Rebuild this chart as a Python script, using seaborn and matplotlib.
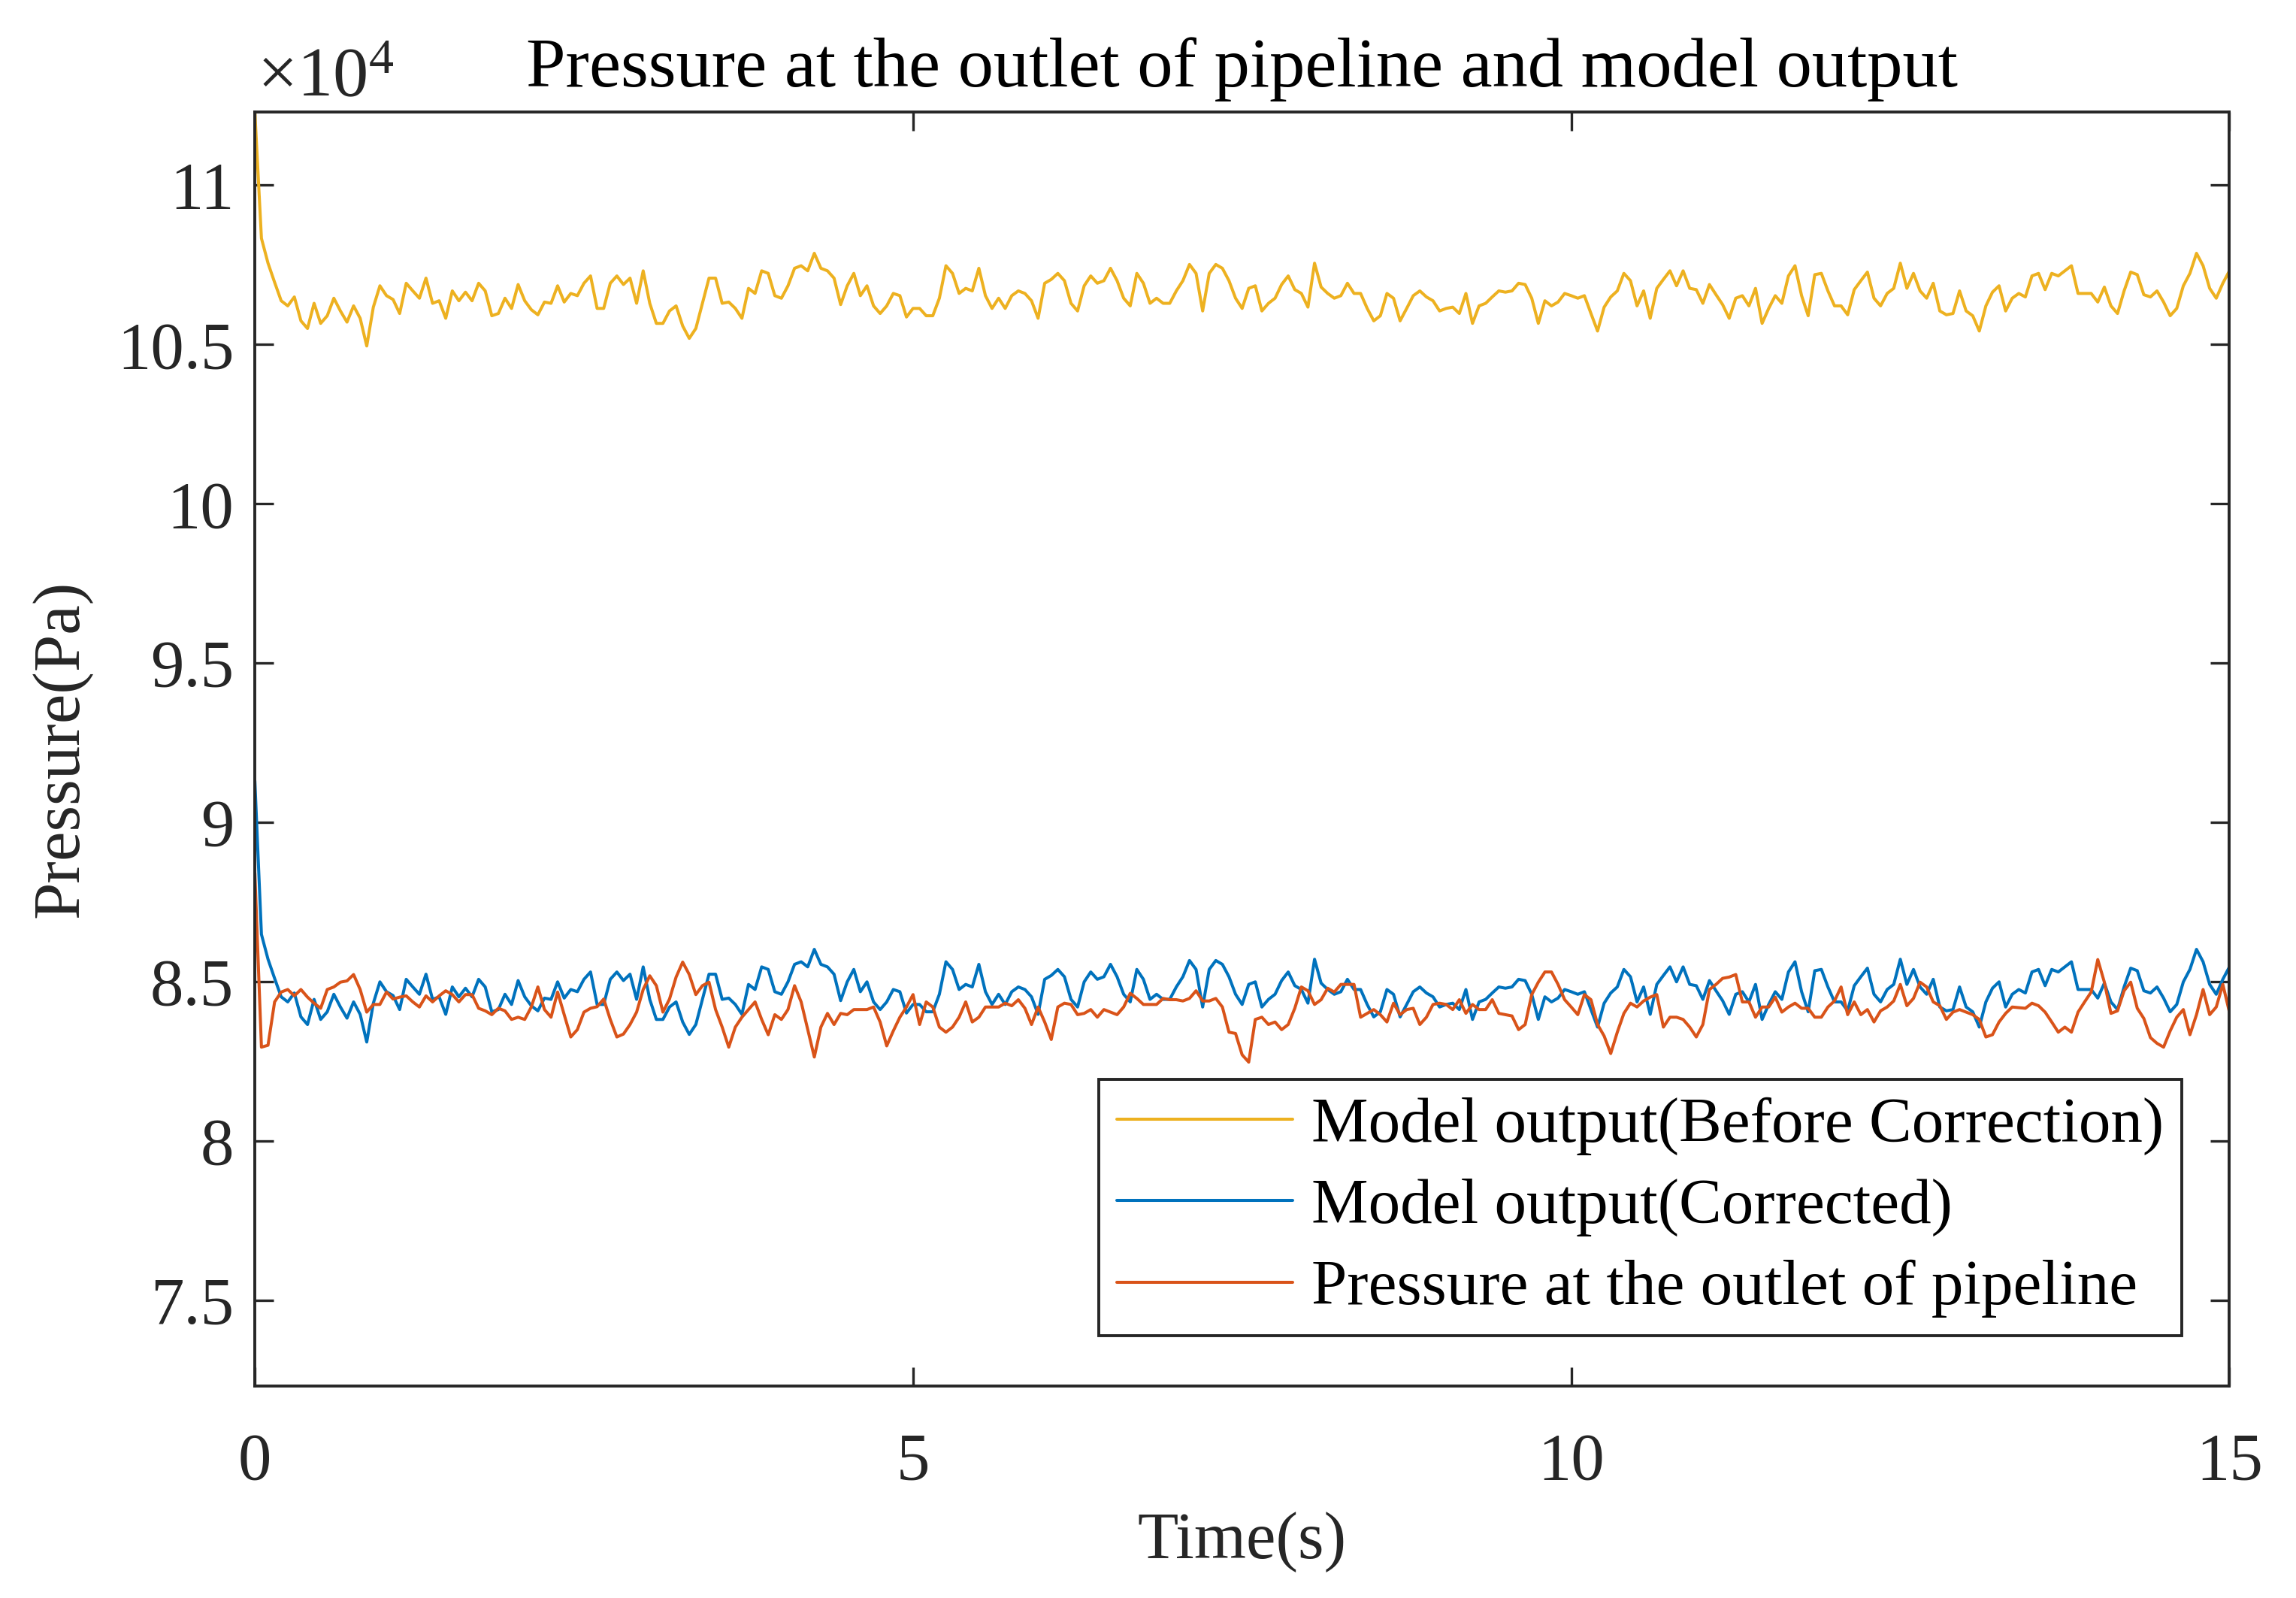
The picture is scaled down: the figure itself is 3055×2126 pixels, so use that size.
import numpy as np
import pandas as pd
import matplotlib
matplotlib.use("Agg")
import matplotlib.pyplot as plt
import seaborn as sns
from matplotlib.ticker import FuncFormatter, FixedLocator

# ---------------- data (pressure in units of 1e4 Pa) ----------------
time_s = np.round(np.arange(301) * 0.05, 2)

model_before = [
    11.23, 10.833, 10.755, 10.695, 10.637, 10.621, 10.649, 10.574, 10.550, 10.629,
    10.566, 10.590, 10.645, 10.605, 10.570, 10.621, 10.582, 10.495, 10.617, 10.684,
    10.653, 10.641, 10.597, 10.692, 10.668, 10.645, 10.708, 10.629, 10.637, 10.582,
    10.668, 10.637, 10.664, 10.637, 10.692, 10.668, 10.590, 10.597, 10.645, 10.613,
    10.688, 10.637, 10.609, 10.593, 10.633, 10.629, 10.684, 10.633, 10.660, 10.653,
    10.692, 10.715, 10.613, 10.613, 10.692, 10.715, 10.688, 10.708, 10.629, 10.731,
    10.629, 10.566, 10.566, 10.605, 10.621, 10.558, 10.519, 10.550, 10.629, 10.708,
    10.708, 10.629, 10.633, 10.613, 10.582, 10.676,
    10.660, 10.731, 10.723, 10.653, 10.645, 10.684, 10.739, 10.747, 10.731, 10.786,
    10.739, 10.731, 10.708, 10.625, 10.684, 10.723, 10.653, 10.684, 10.621, 10.597,
    10.621, 10.660, 10.653, 10.586, 10.613, 10.613, 10.590, 10.590, 10.645, 10.747,
    10.723, 10.660, 10.676, 10.668, 10.739, 10.653, 10.613, 10.645, 10.613, 10.653,
    10.668, 10.660, 10.637, 10.582, 10.692, 10.704, 10.723, 10.700, 10.629, 10.605,
    10.684, 10.715, 10.692, 10.700, 10.739, 10.700, 10.645, 10.621, 10.723, 10.692,
    10.629, 10.645, 10.629, 10.629, 10.668, 10.700, 10.751, 10.723, 10.605, 10.723,
    10.751, 10.739, 10.700, 10.645, 10.613,
    10.676, 10.684, 10.605, 10.629, 10.645, 10.688, 10.715, 10.672, 10.660, 10.617,
    10.755, 10.680, 10.660, 10.645, 10.653, 10.692, 10.660, 10.660, 10.613, 10.574,
    10.590, 10.660, 10.645, 10.574, 10.613, 10.653, 10.668, 10.649, 10.637, 10.605,
    10.613, 10.617, 10.597, 10.660, 10.566, 10.621, 10.629, 10.649, 10.668, 10.664,
    10.668, 10.692, 10.688, 10.645, 10.566, 10.637, 10.621, 10.633, 10.660, 10.653,
    10.645, 10.653, 10.597, 10.542, 10.617, 10.649, 10.668, 10.723, 10.700, 10.621,
    10.668, 10.582, 10.676, 10.704, 10.731, 10.684, 10.731, 10.676, 10.672, 10.629,
    10.688, 10.656, 10.625, 10.582, 10.645,
    10.653, 10.621, 10.676, 10.566, 10.613, 10.653, 10.629, 10.715, 10.747, 10.653,
    10.590, 10.719, 10.723, 10.668, 10.621, 10.621, 10.593, 10.672, 10.700, 10.727,
    10.645, 10.621, 10.660, 10.676, 10.755, 10.676, 10.723, 10.668, 10.645, 10.692,
    10.605, 10.593, 10.597, 10.668, 10.605, 10.590, 10.542, 10.621, 10.664, 10.684,
    10.605, 10.645, 10.660, 10.649, 10.715, 10.723, 10.672, 10.723, 10.715, 10.731,
    10.747, 10.660, 10.660, 10.660, 10.633, 10.680, 10.621, 10.597, 10.668, 10.727,
    10.719, 10.656, 10.649, 10.668, 10.633, 10.590, 10.613, 10.684, 10.723, 10.786,
    10.747, 10.676, 10.645, 10.692, 10.731,
]

model_corrected = [
    9.13, 8.648, 8.570, 8.510, 8.452, 8.436, 8.464, 8.389, 8.365, 8.444,
    8.381, 8.405, 8.460, 8.420, 8.385, 8.436, 8.397, 8.310, 8.432, 8.499,
    8.468, 8.456, 8.412, 8.507, 8.483, 8.460, 8.523, 8.444, 8.452, 8.397,
    8.483, 8.452, 8.479, 8.452, 8.507, 8.483, 8.405, 8.412, 8.460, 8.428,
    8.503, 8.452, 8.424, 8.408, 8.448, 8.444, 8.499, 8.448, 8.475, 8.468,
    8.507, 8.530, 8.428, 8.428, 8.507, 8.530, 8.503, 8.523, 8.444, 8.546,
    8.444, 8.381, 8.381, 8.420, 8.436, 8.373, 8.334, 8.365, 8.444, 8.523,
    8.523, 8.444, 8.448, 8.428, 8.397, 8.491,
    8.475, 8.546, 8.538, 8.468, 8.460, 8.499, 8.554, 8.562, 8.546, 8.601,
    8.554, 8.546, 8.523, 8.440, 8.499, 8.538, 8.468, 8.499, 8.436, 8.412,
    8.436, 8.475, 8.468, 8.401, 8.428, 8.428, 8.405, 8.405, 8.460, 8.562,
    8.538, 8.475, 8.491, 8.483, 8.554, 8.468, 8.428, 8.460, 8.428, 8.468,
    8.483, 8.475, 8.452, 8.397, 8.507, 8.519, 8.538, 8.515, 8.444, 8.420,
    8.499, 8.530, 8.507, 8.515, 8.554, 8.515, 8.460, 8.436, 8.538, 8.507,
    8.444, 8.460, 8.444, 8.444, 8.483, 8.515, 8.566, 8.538, 8.420, 8.538,
    8.566, 8.554, 8.515, 8.460, 8.428,
    8.491, 8.499, 8.420, 8.444, 8.460, 8.503, 8.530, 8.487, 8.475, 8.432,
    8.570, 8.495, 8.475, 8.460, 8.468, 8.507, 8.475, 8.475, 8.428, 8.389,
    8.405, 8.475, 8.460, 8.389, 8.428, 8.468, 8.483, 8.464, 8.452, 8.420,
    8.428, 8.432, 8.412, 8.475, 8.381, 8.436, 8.444, 8.464, 8.483, 8.479,
    8.483, 8.507, 8.503, 8.460, 8.381, 8.452, 8.436, 8.448, 8.475, 8.468,
    8.460, 8.468, 8.412, 8.357, 8.432, 8.464, 8.483, 8.538, 8.515, 8.436,
    8.483, 8.397, 8.491, 8.519, 8.546, 8.499, 8.546, 8.491, 8.487, 8.444,
    8.503, 8.471, 8.440, 8.397, 8.460,
    8.468, 8.436, 8.491, 8.381, 8.428, 8.468, 8.444, 8.530, 8.562, 8.468,
    8.405, 8.534, 8.538, 8.483, 8.436, 8.436, 8.408, 8.487, 8.515, 8.542,
    8.460, 8.436, 8.475, 8.491, 8.570, 8.491, 8.538, 8.483, 8.460, 8.507,
    8.420, 8.408, 8.412, 8.483, 8.420, 8.405, 8.357, 8.436, 8.479, 8.499,
    8.420, 8.460, 8.475, 8.464, 8.530, 8.538, 8.487, 8.538, 8.530, 8.546,
    8.562, 8.475, 8.475, 8.475, 8.448, 8.495, 8.436, 8.412, 8.483, 8.542,
    8.534, 8.471, 8.464, 8.483, 8.448, 8.405, 8.428, 8.499, 8.538, 8.601,
    8.562, 8.491, 8.460, 8.507, 8.546,
]

outlet_pressure = [
    8.84, 8.294, 8.300, 8.436, 8.467, 8.475, 8.455, 8.475, 8.451, 8.432,
    8.416, 8.475, 8.483, 8.498, 8.502, 8.522, 8.475, 8.404, 8.428, 8.428,
    8.467, 8.445, 8.451, 8.455, 8.436, 8.420, 8.455, 8.436, 8.455, 8.471,
    8.459, 8.436, 8.459, 8.459, 8.416, 8.408, 8.396, 8.416, 8.408, 8.381,
    8.388, 8.381, 8.420, 8.483, 8.412, 8.388, 8.467, 8.396, 8.326, 8.349,
    8.404, 8.416, 8.421, 8.445, 8.381, 8.326, 8.335, 8.365, 8.404, 8.475,
    8.518, 8.487, 8.404, 8.445, 8.514, 8.561, 8.522, 8.459, 8.487, 8.498,
    8.412, 8.357, 8.294, 8.357, 8.388, 8.412,
    8.436, 8.381, 8.333, 8.396, 8.381, 8.412, 8.487, 8.436, 8.349, 8.263,
    8.357, 8.400, 8.365, 8.400, 8.396, 8.412, 8.412, 8.412, 8.420, 8.373,
    8.298, 8.345, 8.388, 8.420, 8.459, 8.365, 8.436, 8.420, 8.357, 8.341,
    8.357, 8.388, 8.436, 8.373, 8.388, 8.420, 8.420, 8.420, 8.432, 8.424,
    8.443, 8.416, 8.365, 8.420, 8.373, 8.318, 8.420, 8.432, 8.428, 8.396,
    8.400, 8.412, 8.388, 8.412, 8.404, 8.396, 8.420, 8.463, 8.447, 8.428,
    8.428, 8.428, 8.447, 8.443, 8.443, 8.439, 8.447, 8.471, 8.439, 8.439,
    8.447, 8.420, 8.341, 8.337, 8.270,
    8.247, 8.381, 8.388, 8.365, 8.373, 8.349, 8.365, 8.416, 8.483, 8.471,
    8.428, 8.443, 8.479, 8.467, 8.491, 8.491, 8.491, 8.388, 8.400, 8.412,
    8.396, 8.373, 8.432, 8.396, 8.412, 8.416, 8.365, 8.388, 8.428, 8.432,
    8.428, 8.412, 8.443, 8.400, 8.428, 8.412, 8.412, 8.443, 8.400, 8.396,
    8.392, 8.349, 8.365, 8.459, 8.498, 8.530, 8.530, 8.491, 8.443, 8.420,
    8.396, 8.459, 8.443, 8.365, 8.329, 8.274, 8.341, 8.400, 8.432, 8.420,
    8.439, 8.451, 8.459, 8.357, 8.388, 8.388, 8.381, 8.357, 8.326, 8.365,
    8.475, 8.491, 8.510, 8.514, 8.522,
    8.436, 8.436, 8.388, 8.420, 8.420, 8.451, 8.404, 8.420, 8.432, 8.416,
    8.416, 8.388, 8.388, 8.420, 8.439, 8.483, 8.396, 8.436, 8.396, 8.412,
    8.373, 8.408, 8.420, 8.439, 8.491, 8.424, 8.447, 8.498, 8.483, 8.436,
    8.424, 8.381, 8.404, 8.412, 8.404, 8.396, 8.381, 8.326, 8.333, 8.373,
    8.400, 8.420, 8.418, 8.416, 8.432, 8.424, 8.404, 8.373, 8.341, 8.357,
    8.341, 8.404, 8.436, 8.467, 8.569, 8.498, 8.400, 8.408, 8.471, 8.498,
    8.416, 8.384, 8.324, 8.306, 8.294, 8.345, 8.388, 8.412, 8.333, 8.396,
    8.475, 8.396, 8.420, 8.491, 8.404,
]

series_labels = [
    "Model output(Before Correction)",
    "Model output(Corrected)",
    "Pressure at the outlet of pipeline",
]
series_colors = ["#EDB120", "#0072BD", "#D95319"]
x_ticks = [0, 5, 10, 15]
y_ticks = [75000, 80000, 85000, 90000, 95000, 100000, 105000, 110000]

# ---------------- build long table ----------------
frames = []
for lab, vals in zip(series_labels, [model_before, model_corrected, outlet_pressure]):
    frames.append(pd.DataFrame({"Time": time_s,
                                "Pressure": np.asarray(vals) * 1e4,
                                "series": lab}))
df = pd.concat(frames, ignore_index=True)

# ---------------- style ----------------
sns.set_theme(style="ticks")
serif = ["Liberation Serif", "DejaVu Serif"]
plt.rcParams["font.family"] = serif
plt.rcParams["mathtext.fontset"] = "custom"
plt.rcParams["mathtext.rm"] = "Liberation Serif"
plt.rcParams["mathtext.it"] = "Liberation Serif:italic"
dark = "#262626"

fig = plt.figure(figsize=(15.275, 10.63), dpi=200)
ax = fig.add_axes([0.111, 0.1326, 0.860, 0.7974])

sns.lineplot(data=df, x="Time", y="Pressure", hue="series",
             hue_order=series_labels, palette=dict(zip(series_labels, series_colors)),
             estimator=None, sort=False, linewidth=1.45, ax=ax)

ax.set_xlim(0, 15)
ax.set_ylim(72300, 112300)
ax.xaxis.set_major_locator(FixedLocator(x_ticks))
ax.yaxis.set_major_locator(FixedLocator(y_ticks))
ax.yaxis.set_major_formatter(FuncFormatter(lambda v, p: "%g" % (v / 1e4)))
ax.xaxis.set_major_formatter(FuncFormatter(lambda v, p: "%g" % v))

for sp in ax.spines.values():
    sp.set_visible(True)
    sp.set_linewidth(1.4)
    sp.set_color(dark)

ax.tick_params(axis="both", which="major", direction="in", length=9, width=1.2,
               color=dark, labelcolor=dark, labelsize=32,
               top=True, right=True)
ax.tick_params(axis="x", pad=22)
ax.tick_params(axis="y", pad=10)

ax.set_xlabel("Time(s)", fontsize=32, color=dark, labelpad=9)
ax.set_ylabel("Pressure(Pa)", fontsize=32, color=dark, labelpad=12)
ax.set_title("Pressure at the outlet of pipeline and model output",
             fontsize=34, color="black", pad=12)

ax.annotate(r"$\times10^{4}$", xy=(0, 1), xycoords="axes fraction",
            xytext=(1, 8), textcoords="offset points",
            ha="left", va="baseline", fontsize=34, color=dark)

handles, labels = ax.get_legend_handles_labels()
if ax.get_legend() is not None:
    ax.get_legend().remove()
leg = ax.legend(handles, labels, loc="lower right", bbox_to_anchor=(0.976, 0.0395),
                borderaxespad=0, fontsize=30.6, frameon=True, fancybox=False,
                edgecolor=dark, handlelength=2.75, handletextpad=0.3,
                labelspacing=0.36, borderpad=0.28, framealpha=1)
leg.get_frame().set_linewidth(1.4)
for t in leg.get_texts():
    t.set_color("black")

fig.savefig("out.png", dpi=200, facecolor="white")
